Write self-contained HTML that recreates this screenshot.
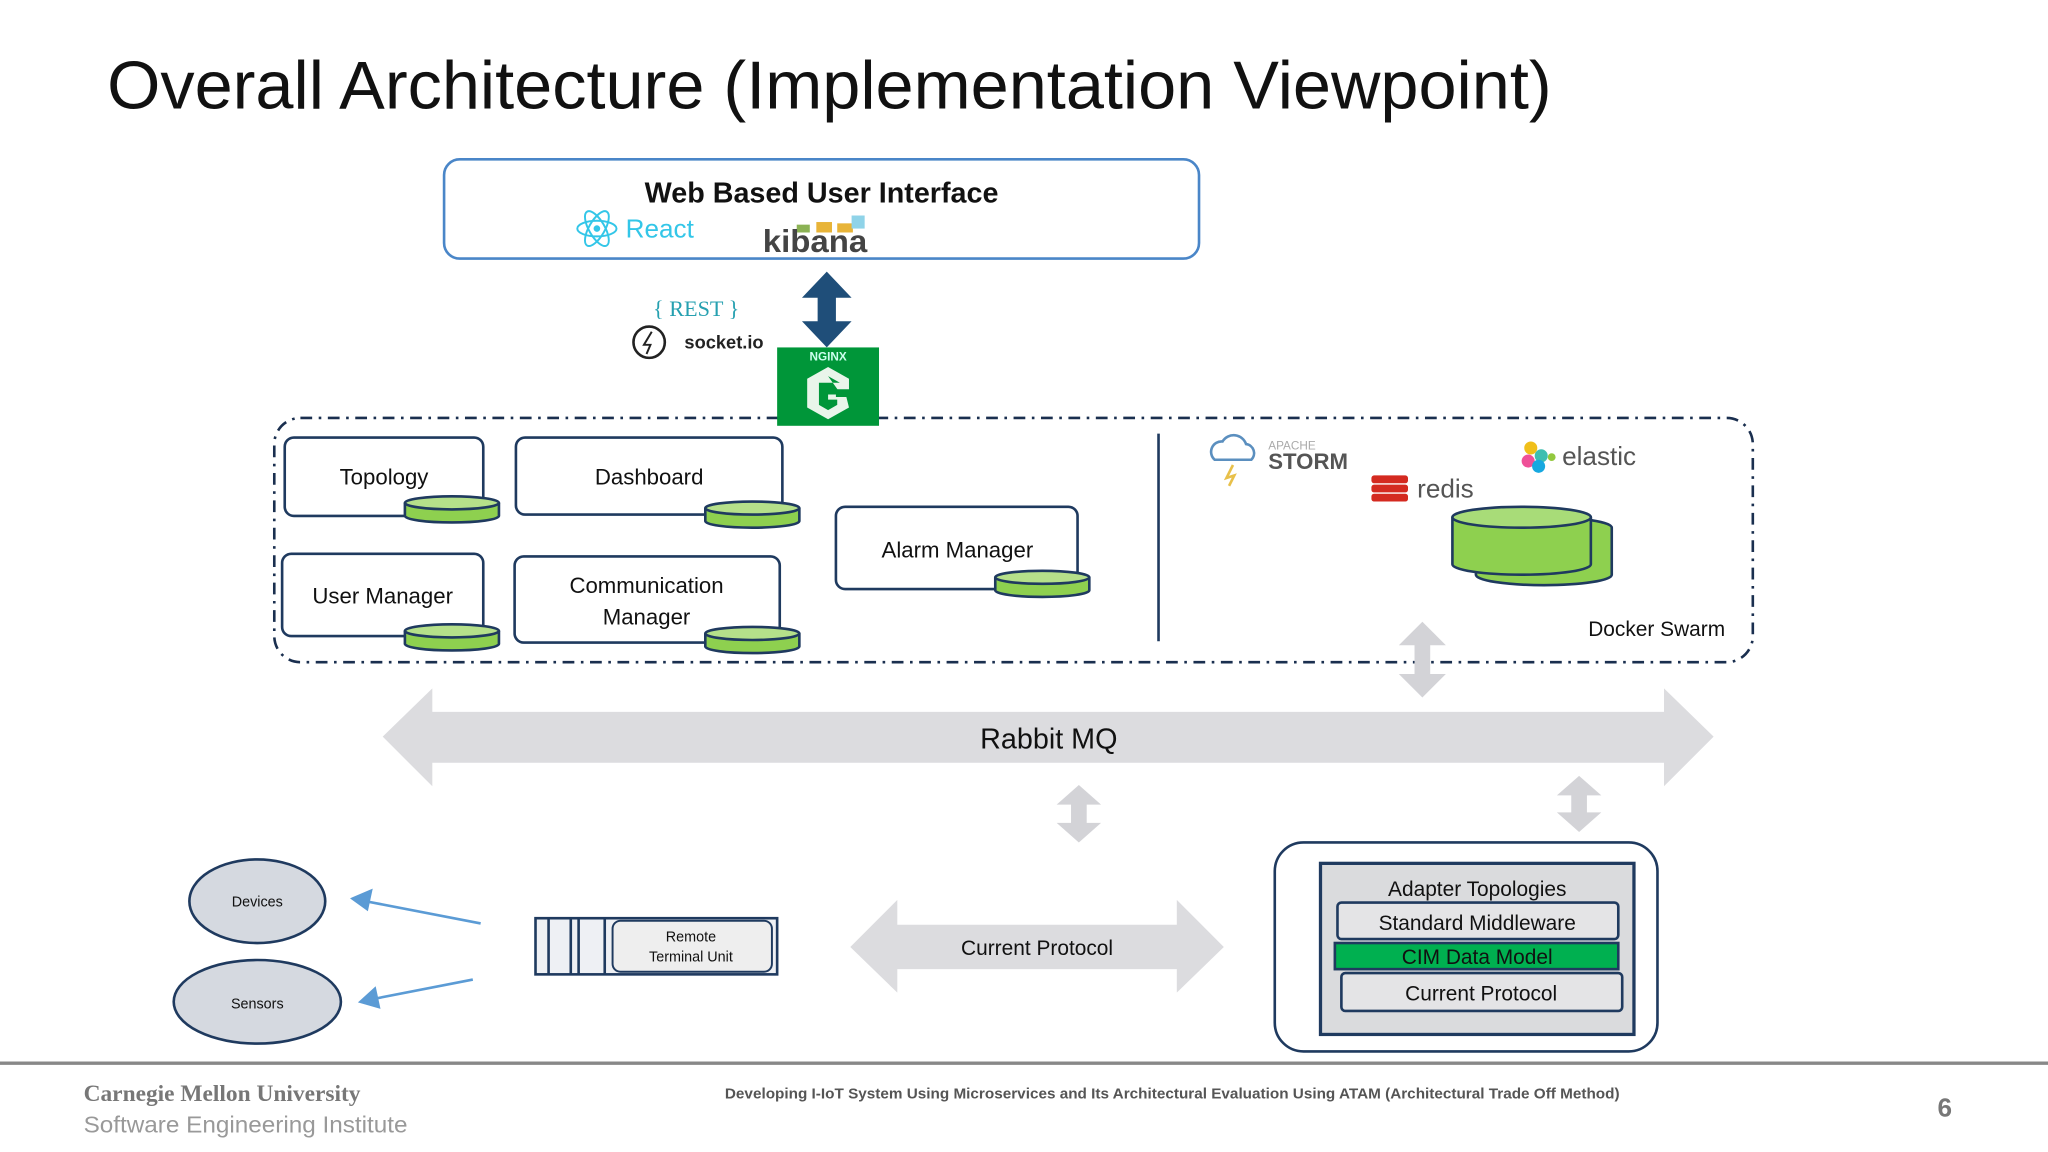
<!DOCTYPE html>
<html><head><meta charset="utf-8"><style>
html,body{margin:0;padding:0;background:#fff;width:2048px;height:1152px;overflow:hidden}
svg{display:block}
text{font-family:"Liberation Sans","DejaVu Sans",sans-serif}
</style></head><body>
<svg width="2048" height="1152" viewBox="0 0 1568 882" xmlns="http://www.w3.org/2000/svg">
<defs>
<g id="cyl">
<path d="M0,5 L0,15 A36,5 0 0 0 72,15 L72,5" fill="#8ed04f" stroke="#1f3a5f" stroke-width="2"/>
<ellipse cx="36" cy="5" rx="36" ry="5" fill="#b5e08a" stroke="#1f3a5f" stroke-width="2"/>
</g>
</defs>
<rect width="1568" height="882" fill="#fff"/>
<text x="82" y="83" font-size="52" fill="#111" textLength="1106" lengthAdjust="spacingAndGlyphs">Overall Architecture (Implementation Viewpoint)</text>

<!-- Web UI -->
<rect x="340" y="122" width="578" height="76" rx="12" fill="#fff" stroke="#4a86c8" stroke-width="2"/>
<text x="629" y="155" font-size="22" font-weight="bold" text-anchor="middle" fill="#111">Web Based User Interface</text>
<g stroke="#33c6e8" fill="none" stroke-width="1.5">
<ellipse cx="457" cy="175" rx="15" ry="6"/>
<ellipse cx="457" cy="175" rx="15" ry="6" transform="rotate(60 457 175)"/>
<ellipse cx="457" cy="175" rx="15" ry="6" transform="rotate(-60 457 175)"/>
</g>
<circle cx="457" cy="175" r="2.5" fill="#33c6e8"/>
<text x="479" y="182" font-size="20" fill="#33c6e8">React</text>
<rect x="610" y="172" width="10" height="6" fill="#8bb254"/>
<rect x="625" y="170" width="12" height="8" fill="#e8b438"/>
<rect x="641" y="171" width="12" height="7" fill="#e8b438"/>
<rect x="652" y="165" width="10" height="10" fill="#8fd3e8"/>
<text x="584" y="193" font-size="24" fill="#444" font-weight="bold" textLength="80" lengthAdjust="spacingAndGlyphs">kibana</text>

<!-- dark arrow -->
<polygon points="633,208 652,228 640,228 640,246 652,246 633,266 614,246 626,246 626,228 614,228" fill="#1f4e79"/>
<text x="500" y="242" font-size="17" fill="#26a0b0" style="font-family:'Liberation Serif',serif">{ REST }</text>
<circle cx="497" cy="262" r="12" fill="none" stroke="#222" stroke-width="2"/>
<path d="M499,254 L493,264 L498,264 L495,271" stroke="#222" fill="none" stroke-width="1.5"/>
<text x="524" y="267" font-size="14" font-weight="bold" fill="#222">socket.io</text>

<!-- dashed container -->
<rect x="210" y="320" width="1132" height="187" rx="20" fill="none" stroke="#1a2f4f" stroke-width="2" stroke-dasharray="9,5,2,5"/>
<!-- nginx -->
<rect x="595" y="266" width="78" height="60" fill="#009639"/>
<text x="634" y="276" font-size="9" font-weight="bold" fill="#cfe" text-anchor="middle">NGINX</text>
<polygon points="634,281 650,290 650,298 640,298 640,304 648,304 650,312 634,321 618,312 618,290" fill="#e9f5ea"/>
<polygon points="634,288 643,293 627,293 627,310 634,314 641,310 641,306 634,306 634,302 644,302" fill="#009639"/>

<line x1="887" y1="332" x2="887" y2="491" stroke="#1f3a5f" stroke-width="2"/>

<g fill="#fff" stroke="#1f3a5f" stroke-width="2">
<rect x="218" y="335" width="152" height="60" rx="7"/>
<rect x="395" y="335" width="204" height="59" rx="7"/>
<rect x="216" y="424" width="154" height="63" rx="7"/>
<rect x="394" y="426" width="203" height="66" rx="7"/>
<rect x="640" y="388" width="185" height="63" rx="7"/>
</g>
<g font-size="17" fill="#111" text-anchor="middle">
<text x="294" y="371">Topology</text>
<text x="497" y="371">Dashboard</text>
<text x="293" y="462">User Manager</text>
<text x="495" y="454">Communication</text>
<text x="495" y="478">Manager</text>
<text x="733" y="427">Alarm Manager</text>
</g>
<use href="#cyl" x="310" y="380"/>
<use href="#cyl" x="540" y="384"/>
<use href="#cyl" x="310" y="478"/>
<use href="#cyl" x="540" y="480"/>
<use href="#cyl" x="762" y="437"/>

<!-- logos -->
<path d="M930,352 a8,8 0 0 1 6,-14 a10,10 0 0 1 18,2 a7,7 0 0 1 4,12 z" fill="none" stroke="#5b8fbf" stroke-width="2"/>
<path d="M944,356 l-5,10 l6,-2 l-4,8" stroke="#e8c04a" fill="none" stroke-width="2"/>
<text x="971" y="344" font-size="9" fill="#aaa">APACHE</text>
<text x="971" y="359" font-size="17" font-weight="bold" fill="#555">STORM</text>
<g fill="#d42a20"><rect x="1050" y="364" width="28" height="6" rx="2"/><rect x="1050" y="371" width="28" height="6" rx="2"/><rect x="1050" y="378" width="28" height="6" rx="2"/></g>
<text x="1085" y="381" font-size="20" fill="#555">redis</text>
<circle cx="1172" cy="343" r="5" fill="#f0bf1a"/><circle cx="1180" cy="349" r="5" fill="#3ebeb0"/><circle cx="1170" cy="353" r="5" fill="#ef5098"/><circle cx="1178" cy="357" r="5" fill="#17a8e0"/><circle cx="1188" cy="350" r="3" fill="#93c83e"/>
<text x="1196" y="356" font-size="20" fill="#555">elastic</text>

<!-- big cylinder -->
<path d="M1130,404 L1130,440 A52,8 0 0 0 1234,440 L1234,404 A52,8 0 0 0 1130,404 z" fill="#8ed04f" stroke="#1f3a5f" stroke-width="2"/>
<path d="M1112,396 L1112,432 A53,8 0 0 0 1218,432 L1218,396" fill="#8ed04f" stroke="#1f3a5f" stroke-width="2"/>
<ellipse cx="1165" cy="396" rx="53" ry="8" fill="#a8dc78" stroke="#1f3a5f" stroke-width="2"/>
<text x="1216" y="487" font-size="16" fill="#111">Docker Swarm</text>

<!-- small gray arrows -->
<g fill="#d3d3d7">
<polygon points="1089,476 1107,494 1095,494 1095,516 1107,516 1089,534 1071,516 1083,516 1083,494 1071,494"/>
<polygon points="826,601 843,616 832,616 832,630 843,630 826,645 809,630 820,630 820,616 809,616"/>
<polygon points="1209,594 1226,609 1215,609 1215,622 1226,622 1209,637 1192,622 1203,622 1203,609 1192,609"/>
</g>
<!-- Rabbit MQ -->
<polygon points="293,564 331,527 331,545 1274,545 1274,527 1312,564 1274,602 1274,584 331,584 331,602" fill="#dcdcdf"/>
<text x="803" y="573" font-size="22" fill="#111" text-anchor="middle">Rabbit MQ</text>

<!-- Devices / sensors -->
<ellipse cx="197" cy="690" rx="52" ry="32" fill="#d5d9e0" stroke="#1f3a5f" stroke-width="2"/>
<ellipse cx="197" cy="767" rx="64" ry="32" fill="#d5d9e0" stroke="#1f3a5f" stroke-width="2"/>
<text x="197" y="694" font-size="11" text-anchor="middle" fill="#111">Devices</text>
<text x="197" y="772" font-size="11" text-anchor="middle" fill="#111">Sensors</text>
<g stroke="#5b9bd5" stroke-width="2" fill="#5b9bd5">
<line x1="368" y1="707" x2="280" y2="690"/><polygon points="270,688 284,682 281,696"/>
<line x1="362" y1="750" x2="285" y2="765"/><polygon points="276,767 287,757 290,771"/>
</g>
<!-- RTU -->
<rect x="410" y="703" width="185" height="43" fill="#eef0f4" stroke="#1f3a5f" stroke-width="2"/>
<g stroke="#1f3a5f" stroke-width="2"><line x1="420" y1="703" x2="420" y2="746"/><line x1="437" y1="703" x2="437" y2="746"/><line x1="443" y1="703" x2="443" y2="746"/><line x1="463" y1="703" x2="463" y2="746"/></g>
<rect x="469" y="705" width="122" height="39" rx="6" fill="#eee" stroke="#1f3a5f" stroke-width="1.5"/>
<text x="529" y="721" font-size="11" text-anchor="middle" fill="#111">Remote</text>
<text x="529" y="736" font-size="11" text-anchor="middle" fill="#111">Terminal Unit</text>
<!-- current protocol arrow -->
<polygon points="651,725 687,689 687,708 901,708 901,689 937,725 901,760 901,742 687,742 687,760" fill="#dcdcdf"/>
<text x="794" y="731" font-size="16" text-anchor="middle" fill="#111">Current Protocol</text>
<!-- right box -->
<rect x="976" y="645" width="293" height="160" rx="22" fill="#fff" stroke="#1f3a5f" stroke-width="2"/>
<rect x="1011" y="661" width="240" height="131" fill="#dadbdd" stroke="#1f3a5f" stroke-width="2.5"/>
<text x="1131" y="686" font-size="16" text-anchor="middle" fill="#111">Adapter Topologies</text>
<rect x="1024" y="691" width="215" height="28" rx="3" fill="#e4e4e6" stroke="#1f3a5f" stroke-width="2"/>
<text x="1131" y="712" font-size="16" text-anchor="middle" fill="#111">Standard Middleware</text>
<rect x="1022" y="722" width="217" height="20" fill="#00b050" stroke="#1f3a5f" stroke-width="2"/>
<text x="1131" y="738" font-size="16" text-anchor="middle" fill="#111">CIM Data Model</text>
<rect x="1027" y="745" width="215" height="29" rx="3" fill="#e4e4e6" stroke="#1f3a5f" stroke-width="2"/>
<text x="1134" y="766" font-size="16" text-anchor="middle" fill="#111">Current Protocol</text>

<!-- footer -->
<line x1="0" y1="814" x2="1568" y2="814" stroke="#888" stroke-width="2.5"/>
<text x="64" y="843" font-size="18" font-weight="bold" fill="#777" style="font-family:'Liberation Serif',serif" textLength="212" lengthAdjust="spacingAndGlyphs">Carnegie Mellon University</text>
<text x="64" y="867" font-size="18" fill="#999" textLength="248" lengthAdjust="spacingAndGlyphs">Software Engineering Institute</text>
<text x="555" y="841" font-size="11" font-weight="bold" fill="#555" textLength="685" lengthAdjust="spacingAndGlyphs">Developing I-IoT System Using Microservices and Its Architectural Evaluation Using ATAM (Architectural Trade Off Method)</text>
<text x="1489" y="855" font-size="20" font-weight="bold" fill="#777" text-anchor="middle">6</text>
</svg>
</body></html>
